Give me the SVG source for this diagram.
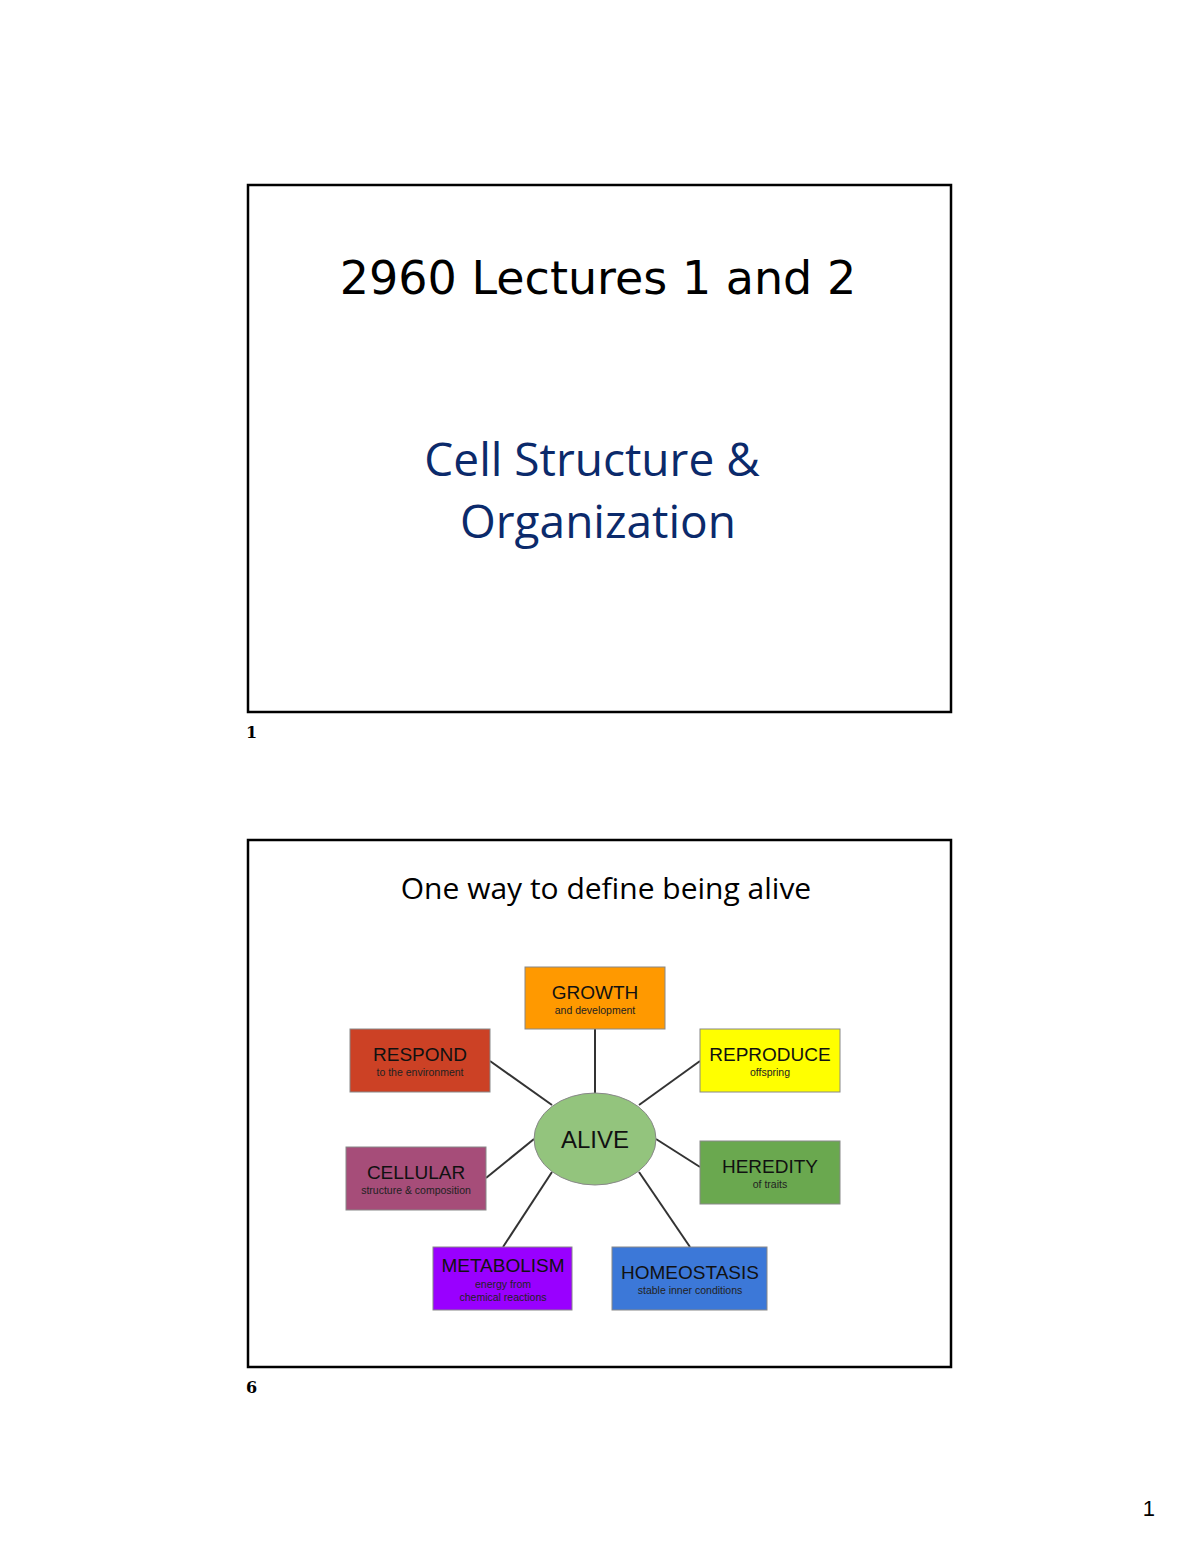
<svg xmlns="http://www.w3.org/2000/svg" width="1200" height="1553" viewBox="0 0 1200 1553">
<style>
.frame{fill:#fff;stroke:#000;stroke-width:2.5}
.box{stroke:#888;stroke-width:1}
.t{font-family:"Liberation Sans",Arial,sans-serif;text-anchor:middle;fill:#111}
.big{font-size:19px}
.sm{font-size:10.5px;fill:#222}
.pg{font-family:"DejaVu Serif",serif;font-size:16px;font-weight:bold}
.con{stroke:#333;stroke-width:2;fill:none}
</style>
<rect width="1200" height="1553" fill="#fff"/>
<g id="slide1">
<rect class="frame" x="248" y="185" width="703" height="527"/>
<text x="598" y="294" font-family="DejaVu Sans,sans-serif" font-size="46" text-anchor="middle" fill="#000">2960 Lectures 1 and 2</text>
<text x="592" y="476" font-family="Open Sans,sans-serif" font-size="46" text-anchor="middle" fill="#0b2a6b">Cell Structure &amp;</text>
<text x="598" y="538" font-family="Open Sans,sans-serif" font-size="46" text-anchor="middle" fill="#0b2a6b">Organization</text>
<text class="pg" x="246" y="738">1</text>
</g>
<g id="slide2">
<rect class="frame" x="248" y="840" width="703" height="527"/>
<text x="606" y="899" font-family="Open Sans,sans-serif" font-size="30" text-anchor="middle" fill="#000">One way to define being alive</text>
<text class="pg" x="246" y="1393">6</text>
</g>
<g id="connectors">
<line class="con" x1="595" y1="1029" x2="595" y2="1093"/>
<line class="con" x1="490" y1="1061" x2="552" y2="1105"/>
<line class="con" x1="700" y1="1061" x2="639" y2="1105"/>
<line class="con" x1="486" y1="1178" x2="534" y2="1139"/>
<line class="con" x1="700" y1="1167" x2="656" y2="1139"/>
<line class="con" x1="503" y1="1247" x2="552" y2="1172"/>
<line class="con" x1="690" y1="1247" x2="639" y2="1172"/>
</g>
<g id="alive"><ellipse cx="595" cy="1139" rx="61" ry="46" fill="#93c47d" stroke="#888"/><text class="t" x="595" y="1148" font-size="24">ALIVE</text></g>
<g id="growth"><rect class="box" x="525" y="967" width="140" height="62" fill="#ff9900"/><text class="t big" x="595" y="999">GROWTH</text><text class="t sm" x="595" y="1014">and development</text></g>
<g id="respond"><rect class="box" x="350" y="1029" width="140" height="63" fill="#cc4125"/><text class="t big" x="420" y="1061">RESPOND</text><text class="t sm" x="420" y="1076">to the environment</text></g>
<g id="reproduce"><rect class="box" x="700" y="1029" width="140" height="63" fill="#ffff00"/><text class="t big" x="770" y="1061">REPRODUCE</text><text class="t sm" x="770" y="1076">offspring</text></g>
<g id="cellular"><rect class="box" x="346" y="1147" width="140" height="63" fill="#a64d79"/><text class="t big" x="416" y="1179">CELLULAR</text><text class="t sm" x="416" y="1194">structure &amp; composition</text></g>
<g id="heredity"><rect class="box" x="700" y="1141" width="140" height="63" fill="#6aa84f"/><text class="t big" x="770" y="1173">HEREDITY</text><text class="t sm" x="770" y="1188">of traits</text></g>
<g id="metabolism"><rect class="box" x="433" y="1247" width="139" height="63" fill="#9900ff"/><text class="t big" x="503" y="1272">METABOLISM</text><text class="t sm" x="503" y="1288">energy from</text><text class="t sm" x="503" y="1301">chemical reactions</text></g>
<g id="homeostasis"><rect class="box" x="612" y="1247" width="155" height="63" fill="#3c78d8"/><text class="t big" x="690" y="1279">HOMEOSTASIS</text><text class="t sm" x="690" y="1294">stable inner conditions</text></g>
<text x="1155" y="1516" font-family="Liberation Sans,sans-serif" font-size="22" text-anchor="end" fill="#000">1</text>
</svg>
